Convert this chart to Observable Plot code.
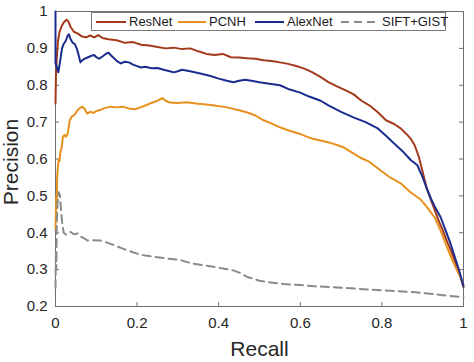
<!DOCTYPE html>
<html><head><meta charset="utf-8">
<script src="https://cdn.jsdelivr.net/npm/d3@7"></script>
<script src="https://cdn.jsdelivr.net/npm/@observablehq/plot@0.6"></script>
<style>
body{margin:0;background:#fff;}
#wrap{position:relative;width:474px;height:362px;font-family:"Liberation Sans",Arial,sans-serif;}
#legend{position:absolute;left:91px;top:12px;width:353px;height:17px;border:1px solid #7a7a7a;background:#fff;}
.item{position:absolute;top:0;height:17px;display:flex;align-items:center;font-size:13px;color:#1a1a1a;white-space:nowrap;}
.item svg{margin-right:3px;}
</style></head><body><div id="wrap"></div>
<script>
const seriesNames = ["ResNet", "PCNH", "AlexNet", "SIFT+GIST"];
const xTicks = [0, 0.2, 0.4, 0.6, 0.8, 1];
const yTicks = [0.2, 0.3, 0.4, 0.5, 0.6, 0.7, 0.8, 0.9, 1];

const resnetRecall = [0,0.001,0.003,0.006,0.010,0.015,0.020,0.027,0.032,0.037,0.045,0.055,0.065,0.075,0.085,0.095,0.105,0.115,0.13,0.15,0.17,0.19,0.21,0.23,0.25,0.27,0.29,0.31,0.33,0.35,0.37,0.39,0.41,0.43,0.45,0.47,0.49,0.51,0.53,0.55,0.57,0.59,0.61,0.63,0.65,0.67,0.69,0.71,0.73,0.75,0.77,0.79,0.81,0.83,0.846,0.86,0.87,0.88,0.89,0.90,0.91,0.92,0.93,0.94,0.95,0.96,0.97,0.98,0.99,1.0];
const resnetPrecision = [0.75,0.82,0.87,0.92,0.945,0.96,0.97,0.978,0.972,0.958,0.945,0.94,0.932,0.93,0.935,0.93,0.936,0.928,0.925,0.922,0.915,0.917,0.91,0.908,0.904,0.9,0.902,0.898,0.9,0.892,0.885,0.882,0.885,0.876,0.875,0.873,0.872,0.868,0.866,0.862,0.858,0.852,0.845,0.835,0.822,0.808,0.797,0.787,0.776,0.758,0.745,0.727,0.705,0.695,0.683,0.668,0.656,0.638,0.608,0.565,0.52,0.49,0.46,0.43,0.405,0.375,0.35,0.32,0.29,0.252];

const pcnhRecall = [0,0.001,0.002,0.003,0.004,0.006,0.008,0.010,0.012,0.015,0.018,0.022,0.026,0.030,0.035,0.040,0.047,0.054,0.060,0.066,0.072,0.078,0.085,0.093,0.10,0.11,0.12,0.135,0.15,0.165,0.18,0.195,0.208,0.22,0.235,0.25,0.262,0.27,0.28,0.30,0.32,0.35,0.37,0.39,0.42,0.45,0.47,0.49,0.51,0.53,0.55,0.57,0.60,0.617,0.63,0.65,0.67,0.69,0.705,0.73,0.75,0.77,0.797,0.82,0.846,0.87,0.895,0.91,0.93,0.944,0.96,0.975,0.99,1.0];
const pcnhPrecision = [0.41,0.45,0.50,0.48,0.55,0.58,0.60,0.595,0.62,0.63,0.66,0.665,0.66,0.67,0.705,0.715,0.72,0.732,0.738,0.742,0.735,0.723,0.728,0.725,0.73,0.733,0.738,0.742,0.74,0.742,0.737,0.735,0.74,0.745,0.752,0.758,0.765,0.758,0.753,0.752,0.754,0.75,0.748,0.745,0.74,0.732,0.726,0.718,0.705,0.696,0.686,0.678,0.668,0.66,0.655,0.65,0.645,0.638,0.632,0.615,0.602,0.592,0.569,0.55,0.534,0.51,0.49,0.47,0.44,0.406,0.36,0.32,0.285,0.26];

const alexnetRecall = [0,0,0.003,0.007,0.012,0.016,0.020,0.025,0.030,0.033,0.037,0.042,0.047,0.052,0.056,0.061,0.066,0.072,0.080,0.088,0.095,0.10,0.107,0.115,0.125,0.13,0.137,0.143,0.15,0.16,0.17,0.18,0.19,0.20,0.21,0.22,0.235,0.25,0.265,0.28,0.29,0.30,0.31,0.33,0.355,0.38,0.40,0.42,0.436,0.45,0.465,0.48,0.50,0.52,0.55,0.57,0.60,0.62,0.65,0.67,0.70,0.73,0.76,0.79,0.81,0.83,0.85,0.87,0.887,0.90,0.91,0.92,0.93,0.944,0.955,0.968,0.98,0.99,1.0];
const alexnetPrecision = [1.0,0.86,0.85,0.835,0.87,0.90,0.912,0.92,0.935,0.938,0.925,0.915,0.912,0.90,0.885,0.862,0.868,0.872,0.876,0.88,0.882,0.876,0.872,0.878,0.886,0.888,0.88,0.874,0.866,0.859,0.864,0.862,0.856,0.852,0.848,0.85,0.846,0.847,0.842,0.838,0.835,0.838,0.842,0.838,0.832,0.825,0.818,0.812,0.808,0.812,0.815,0.812,0.808,0.805,0.80,0.79,0.78,0.77,0.758,0.745,0.728,0.713,0.70,0.683,0.663,0.642,0.622,0.598,0.583,0.55,0.52,0.493,0.47,0.442,0.41,0.371,0.33,0.295,0.255];

const siftRecall = [0,0.001,0.002,0.003,0.005,0.008,0.011,0.013,0.016,0.020,0.025,0.030,0.037,0.045,0.054,0.061,0.070,0.078,0.09,0.11,0.125,0.142,0.165,0.19,0.21,0.233,0.255,0.274,0.306,0.33,0.36,0.387,0.41,0.436,0.455,0.47,0.50,0.52,0.56,0.60,0.633,0.70,0.755,0.82,0.877,0.94,1.0];
const siftPrecision = [0.25,0.35,0.30,0.42,0.48,0.51,0.50,0.47,0.43,0.40,0.395,0.40,0.402,0.396,0.398,0.39,0.385,0.379,0.38,0.379,0.374,0.367,0.357,0.347,0.34,0.336,0.333,0.33,0.326,0.318,0.312,0.308,0.303,0.298,0.29,0.28,0.27,0.266,0.261,0.258,0.255,0.251,0.247,0.243,0.239,0.232,0.225];

const seriesColors = ["#a33a1b", "#e8901e", "#1b2c8e", "#8a8a8a"];
const axisColor = "#6e6e6e";
const textColor = "#262626";

function rows(name, xs, ys) { return xs.map((x, i) => ({series: name, recall: x, precision: ys[i]})); }
const data = {
  "ResNet": rows("ResNet", resnetRecall, resnetPrecision),
  "PCNH": rows("PCNH", pcnhRecall, pcnhPrecision),
  "AlexNet": rows("AlexNet", alexnetRecall, alexnetPrecision),
  "SIFT+GIST": rows("SIFT+GIST", siftRecall, siftPrecision)
};

const W = 474, H = 362, mL = 55, mR = 11, mT = 11, mB = 56;
const fw = W - mL - mR, fh = H - mT - mB, tk = 4;

const chart = Plot.plot({
  width: W, height: H,
  marginLeft: mL, marginRight: mR, marginTop: mT, marginBottom: mB,
  style: {fontFamily: "'Liberation Sans', Arial, sans-serif", background: "white"},
  x: {domain: [0, 1], axis: null},
  y: {domain: [0.2, 1], axis: null},
  color: {domain: seriesNames, range: seriesColors},
  marks: [
    Plot.frame({stroke: axisColor}),
    Plot.ruleX(xTicks, {x: d => d, insetTop: fh - tk, stroke: axisColor}),
    Plot.ruleX(xTicks, {x: d => d, insetBottom: fh - tk, stroke: axisColor}),
    Plot.ruleY(yTicks, {y: d => d, insetRight: fw - tk, stroke: axisColor}),
    Plot.ruleY(yTicks, {y: d => d, insetLeft: fw - tk, stroke: axisColor}),
    Plot.axisX(xTicks, {anchor: "bottom", tickSize: 0, tickPadding: 11, fontSize: 15, fill: textColor, label: null, tickFormat: d => String(d)}),
    Plot.axisY(yTicks, {anchor: "left", tickSize: 0, tickPadding: 8, fontSize: 15, fill: textColor, label: null, tickFormat: d => String(d)}),
    Plot.text(["Recall"], {text: d => d, frameAnchor: "bottom", textAnchor: "middle", lineAnchor: "middle", dy: 43, fontSize: 21, fill: textColor}),
    Plot.text(["Precision"], {text: d => d, frameAnchor: "left", textAnchor: "middle", lineAnchor: "middle", rotate: -90, dx: -44, dy: 3, fontSize: 21, fill: textColor}),
    Plot.line(data["ResNet"], {x: "recall", y: "precision", stroke: "series", strokeWidth: 2}),
    Plot.line(data["PCNH"], {x: "recall", y: "precision", stroke: "series", strokeWidth: 2}),
    Plot.line(data["AlexNet"], {x: "recall", y: "precision", stroke: "series", strokeWidth: 2}),
    Plot.line(data["SIFT+GIST"], {x: "recall", y: "precision", stroke: "series", strokeWidth: 2, strokeDasharray: "8,5"})
  ]
});

const wrap = document.getElementById("wrap");
wrap.appendChild(chart);

const legend = document.createElement("div");
legend.id = "legend";
const itemLeft = [4, 86, 163, 249];
const lineLen = [30, 28, 29, 38];
seriesNames.forEach((name, i) => {
  const it = document.createElement("div");
  it.className = "item";
  it.style.left = itemLeft[i] + "px";
  const dash = name === "SIFT+GIST" ? ' stroke-dasharray="8,5"' : "";
  it.innerHTML = `<svg width="${lineLen[i]}" height="4"><line x1="0" y1="2" x2="${lineLen[i]}" y2="2" stroke="${seriesColors[i]}" stroke-width="2"${dash}/></svg><span>${name}</span>`;
  legend.appendChild(it);
});
wrap.appendChild(legend);
</script>
</body></html>
